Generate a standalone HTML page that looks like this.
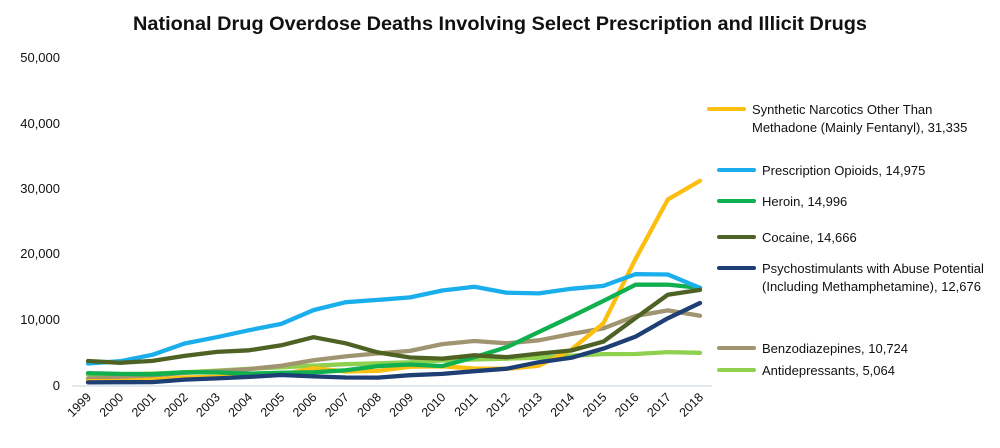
<!DOCTYPE html>
<html><head><meta charset="utf-8"><style>
body{margin:0;background:#fff;}
svg text{font-family:"Liberation Sans",sans-serif;}
</style></head><body>
<svg width="1000" height="443" viewBox="0 0 1000 443" xmlns="http://www.w3.org/2000/svg">
<text x="500" y="30" text-anchor="middle" font-size="19.5" font-weight="bold" fill="#111" textLength="734" lengthAdjust="spacingAndGlyphs">National Drug Overdose Deaths Involving  Select Prescription and Illicit Drugs</text>
<g font-size="13" fill="#111" text-anchor="end">
<text x="60" y="62">50,000</text><text x="60" y="128">40,000</text><text x="60" y="193">30,000</text>
<text x="60" y="258">20,000</text><text x="60" y="324">10,000</text><text x="60" y="390">0</text>
</g>
<line x1="72" y1="386" x2="712" y2="386" stroke="#d5e3ea" stroke-width="1.5"/>
<g id="xl" font-size="12.5" fill="#111"></g>
<g id="lines" fill="none" stroke-width="4.3" stroke-linejoin="round" stroke-linecap="round"></g>
<g stroke-width="4" stroke-linecap="round">
<line x1="709" y1="109" x2="744" y2="109" stroke="#fcbf10"/>
<line x1="719" y1="170" x2="754" y2="170" stroke="#1aaeec"/>
<line x1="719" y1="201" x2="754" y2="201" stroke="#10b050"/>
<line x1="719" y1="237" x2="754" y2="237" stroke="#4e6224"/>
<line x1="719" y1="268" x2="754" y2="268" stroke="#1d3f73"/>
<line x1="719" y1="348" x2="754" y2="348" stroke="#a09570"/>
<line x1="719" y1="370" x2="754" y2="370" stroke="#8fd14f"/>
</g>
<g font-size="13" fill="#111">
<text x="752" y="114">Synthetic Narcotics Other Than</text>
<text x="752" y="132">Methadone (Mainly Fentanyl), 31,335</text>
<text x="762" y="175">Prescription Opioids, 14,975</text>
<text x="762" y="206">Heroin, 14,996</text>
<text x="762" y="242">Cocaine, 14,666</text>
<text x="762" y="273">Psychostimulants with Abuse Potential</text>
<text x="762" y="291">(Including Methamphetamine), 12,676</text>
<text x="762" y="353">Benzodiazepines, 10,724</text>
<text x="762" y="375">Antidepressants, 5,064</text>
</g>
<script>
const X=i=>88+i*(612/19), Y=v=>386-v*0.00655;
const data=[
["#8fd14f",[1749,1805,1904,2094,2343,2621,2840,3094,3329,3462,3619,3889,4042,4174,4323,4628,4868,4885,5181,5064]],
["#a09570",[1135,1298,1594,2006,2248,2585,3090,3934,4524,4982,5364,6397,6872,6524,6973,7945,8791,10684,11537,10724]],
["#fcbf10",[730,782,957,1295,1400,1664,1742,2707,2213,2306,2946,3007,2666,2628,3105,5544,9580,19413,28466,31335]],
["#10b050",[1960,1842,1779,2089,2080,1878,2009,2088,2399,3041,3278,3036,4397,5925,8257,10574,12989,15469,15482,14996]],
["#1aaeec",[3442,3785,4770,6483,7456,8517,9478,11589,12796,13149,13523,14583,15140,14240,14145,14838,15281,17087,17029,14975]],
["#4e6224",[3822,3544,3833,4599,5199,5443,6208,7448,6512,5129,4350,4183,4681,4404,4944,5415,6784,10375,13942,14666]],
["#1d3f73",[547,578,592,970,1165,1392,1673,1468,1291,1275,1651,1847,2266,2635,3627,4298,5716,7542,10333,12676]]];
const ns="http://www.w3.org/2000/svg";
const g=document.getElementById("lines");
data.forEach(([c,d])=>{const p=document.createElementNS(ns,"polyline");p.setAttribute("points",d.map((v,i)=>X(i).toFixed(1)+","+Y(v).toFixed(1)).join(" "));p.setAttribute("stroke",c);g.appendChild(p);});
const xl=document.getElementById("xl");
for(let i=0;i<20;i++){const t=document.createElementNS(ns,"text");const x=X(i)+4,y=398;t.setAttribute("x",x);t.setAttribute("y",y);t.setAttribute("text-anchor","end");t.setAttribute("transform","rotate(-45 "+x+" "+y+")");t.textContent=1999+i;xl.appendChild(t);}
</script>
</svg>
</body></html>
